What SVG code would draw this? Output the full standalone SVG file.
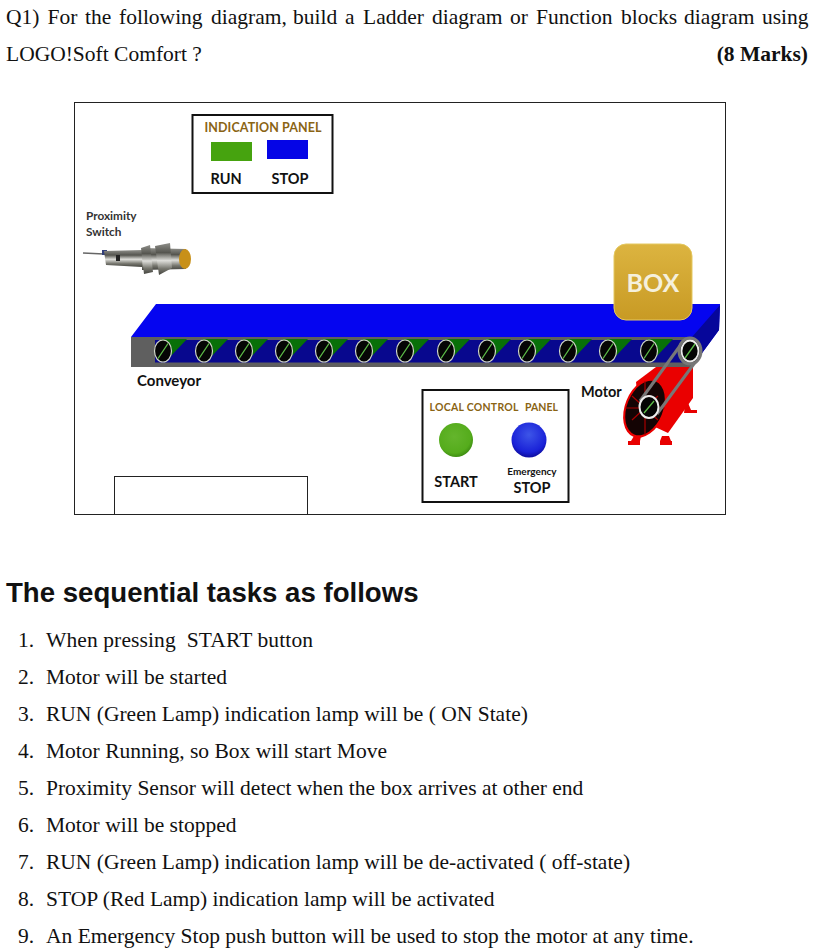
<svg xmlns="http://www.w3.org/2000/svg" width="813" height="952" viewBox="0 0 813 952">
<defs>
<style>
.q{font-family:"Liberation Serif",serif;font-size:21.5px;fill:#111}
.c{font-family:Lato,"Open Sans",sans-serif;font-weight:700;fill:#111}
.p{font-family:Lato,"Open Sans",sans-serif;font-weight:700;fill:#8a6414}
.panel{fill:#fff;stroke:#111;stroke-width:2}
.roller{fill:#050505;stroke:#d0d6c8;stroke-width:1.2}
.slash{stroke:#5fc04a;stroke-width:1.3}
.belt{stroke:#777;stroke-width:3;fill:none}
</style>
<radialGradient id="gb" cx="45%" cy="40%" r="60%"><stop offset="0" stop-color="#64b52c"/><stop offset="0.8" stop-color="#55ac1c"/><stop offset="1" stop-color="#3f8f12"/></radialGradient>
<radialGradient id="bb" cx="50%" cy="35%" r="62%"><stop offset="0" stop-color="#3d55e8"/><stop offset="0.8" stop-color="#1a22d8"/><stop offset="1" stop-color="#1010a8"/></radialGradient>
<linearGradient id="box" x1="0" y1="0" x2="0" y2="1"><stop offset="0" stop-color="#dcb440"/><stop offset="1" stop-color="#c89a24"/></linearGradient>
<linearGradient id="metal" x1="0" y1="0" x2="0" y2="1"><stop offset="0" stop-color="#8f8f8a"/><stop offset="0.3" stop-color="#55554f"/><stop offset="0.55" stop-color="#dededa"/><stop offset="0.8" stop-color="#77776f"/><stop offset="1" stop-color="#44443f"/></linearGradient>
<g id="r"><ellipse class="roller" rx="8.500" ry="11"/><line class="slash" x1="-5" y1="7.500" x2="5" y2="-7.500"/></g>
<path id="wedge" d="M-2 -13H24L6 6Z" fill="#087008"/>
</defs>

<g id="question">
<text class="q" y="24"><tspan x="6">Q1)</tspan><tspan x="47.500">For</tspan><tspan x="85">the</tspan><tspan x="119">following</tspan><tspan x="211">diagram,</tspan><tspan x="293">build</tspan><tspan x="345">a</tspan><tspan x="363">Ladder</tspan><tspan x="432">diagram</tspan><tspan x="510">or</tspan><tspan x="536">Function</tspan><tspan x="621">blocks</tspan><tspan x="684">diagram</tspan><tspan x="762">using</tspan></text>
<text class="q" x="6" y="61">LOGO!Soft Comfort ?</text>
<text class="q" x="808" y="61" text-anchor="end" font-weight="700">(8 Marks)</text>
</g>

<rect id="frame" x="74.500" y="102.500" width="651" height="412" fill="#fff" stroke="#222" stroke-width="1"/>

<g id="indication-panel">
<rect class="panel" x="192.500" y="115" width="140" height="78"/>
<text class="p" x="263" y="132" text-anchor="middle" textLength="117" font-size="12.500">INDICATION PANEL</text>
<rect x="211" y="142" width="41" height="19" fill="#46a30f"/>
<rect x="267" y="140" width="41" height="19" fill="#0505e6"/>
<text class="c" x="226" y="184" font-size="14.500" text-anchor="middle">RUN</text>
<text class="c" x="290" y="184" font-size="14.500" text-anchor="middle">STOP</text>
</g>

<g id="proximity-switch">
<text class="c" x="86" y="220" font-size="11.800" style="fill:#333">Proximity</text>
<text class="c" x="86" y="236" font-size="11.800" style="fill:#333">Switch</text>
<line x1="83" y1="253" x2="104" y2="254" stroke="#666" stroke-width="1.500"/>
<rect x="102" y="250" width="5" height="5" fill="#33407a"/>
<path d="M104 251L142 250V267L106 265Z" fill="url(#metal)"/>
<rect x="116" y="255" width="4" height="6" fill="#222"/>
<path d="M142 248L186 249V269L142 270Z" fill="url(#metal)"/>
<path d="M141 248L150 245L153 272L144 274Z" fill="url(#metal)"/>
<path d="M155 246L170 243L172 268L159 275Z" fill="url(#metal)"/>
<ellipse cx="185" cy="259" rx="6" ry="10" fill="#c89018"/>
</g>

<g id="conveyor">
<path d="M131 337L156 304H720L719 330L702 353L692 337Z" fill="#0505f0"/>
<path d="M692 337L720 305L719 330L700 356Z" fill="#06069a"/>
<rect x="131" y="337" width="562" height="30" fill="#5f5f5f"/>
<rect x="155" y="340" width="530" height="22.500" fill="#08088e"/>
<g>
<use href="#wedge" x="163" y="352"/><use href="#wedge" x="204" y="352"/><use href="#wedge" x="244" y="352"/><use href="#wedge" x="284" y="352"/><use href="#wedge" x="324" y="352"/><use href="#wedge" x="364" y="352"/><use href="#wedge" x="405" y="352"/><use href="#wedge" x="446" y="352"/><use href="#wedge" x="487" y="352"/><use href="#wedge" x="527" y="352"/><use href="#wedge" x="568" y="352"/><use href="#wedge" x="608" y="352"/><use href="#wedge" x="649" y="352"/>
</g>
<g>
<use href="#r" x="163" y="351"/><use href="#r" x="204" y="351"/><use href="#r" x="244" y="351"/><use href="#r" x="284" y="351"/><use href="#r" x="324" y="351"/><use href="#r" x="364" y="351"/><use href="#r" x="405" y="351"/><use href="#r" x="446" y="351"/><use href="#r" x="487" y="351"/><use href="#r" x="527" y="351"/><use href="#r" x="568" y="351"/><use href="#r" x="608" y="351"/><use href="#r" x="649" y="351"/>
</g>
<text class="c" x="137" y="386" font-size="15">Conveyor</text>
</g>

<g id="motor">
<path d="M634 436H641L640 441H631Z M628 441H640V445H628Z" fill="#e80000"/>
<path d="M662 436H669L671 441H660Z M660 441H672V445H660Z" fill="#e80000"/>
<path d="M686 398L691 410H697V413H684Z" fill="#e80000"/>
<path d="M636 382L656 367H693V398L668 433L640 420Z" fill="#ea0000"/>
<ellipse cx="645" cy="408" rx="20" ry="31" transform="rotate(22 645 408)" fill="#ea0000"/>
<ellipse cx="645" cy="408" rx="18" ry="28.500" transform="rotate(22 645 408)" fill="#140404"/>
<path d="M632 396L658 420M658 396L632 420M645 381V435M625 408H665" stroke="#a80000" stroke-width="1.200"/>
<line class="belt" x1="682" y1="343" x2="640" y2="401"/>
<line class="belt" x1="699" y1="357" x2="657" y2="414"/>
<ellipse cx="649" cy="407" rx="9.500" ry="11" fill="#050505" stroke="#ececec" stroke-width="2"/>
<line class="slash" x1="644" y1="413" x2="654" y2="401"/>
<ellipse cx="690" cy="351" rx="11" ry="13" fill="#050505" stroke="#777" stroke-width="3"/>
<ellipse cx="690" cy="351" rx="8.500" ry="10.500" fill="#050505" stroke="#ececec" stroke-width="1.800"/>
<line class="slash" x1="685" y1="358" x2="695" y2="344"/>
<text class="c" x="581" y="397" font-size="14.500">Motor</text>
</g>

<g id="box">
<rect x="614" y="244" width="78" height="76" rx="12" fill="url(#box)" stroke="#e4c860" stroke-width="1"/>
<text x="653" y="292" text-anchor="middle" font-family="Lato,'Open Sans',sans-serif" font-weight="700" font-size="25" fill="#f5f0dc">BOX</text>
</g>

<g id="local-control-panel">
<rect class="panel" x="422.500" y="390" width="146" height="112"/>
<text class="p" x="429.500" y="411" font-size="10.500" textLength="89">LOCAL CONTROL</text>
<text class="p" x="525" y="411" font-size="10.500" textLength="33">PANEL</text>
<circle cx="456" cy="440" r="17" fill="url(#gb)"/>
<circle cx="529" cy="440" r="17.500" fill="url(#bb)"/>
<text class="c" x="456" y="487" font-size="14.500" text-anchor="middle">START</text>
<text class="c" x="532" y="475" font-size="10" text-anchor="middle">Emergency</text>
<text class="c" x="532" y="493" font-size="14.500" text-anchor="middle">STOP</text>
</g>

<rect id="blank-box" x="114.500" y="476.500" width="193" height="38" fill="#fff" stroke="#222" stroke-width="1"/>

<text id="heading" x="6" y="602" font-family="'Liberation Sans',Arial,sans-serif" font-weight="700" font-size="27.600" fill="#111">The sequential tasks as follows</text>

<g id="tasks">
<text class="q" x="18" y="647">1.</text><text class="q" x="46" y="647" xml:space="preserve" textLength="267">When pressing  START button</text>
<text class="q" x="18" y="684">2.</text><text class="q" x="46" y="684">Motor will be started</text>
<text class="q" x="18" y="721">3.</text><text class="q" x="46" y="721">RUN (Green Lamp) indication lamp will be ( ON State)</text>
<text class="q" x="18" y="758">4.</text><text class="q" x="46" y="758">Motor Running, so Box will start Move</text>
<text class="q" x="18" y="795">5.</text><text class="q" x="46" y="795">Proximity Sensor will detect when the box arrives at other end</text>
<text class="q" x="18" y="832">6.</text><text class="q" x="46" y="832">Motor will be stopped</text>
<text class="q" x="18" y="869">7.</text><text class="q" x="46" y="869">RUN (Green Lamp) indication lamp will be de-activated ( off-state)</text>
<text class="q" x="18" y="906">8.</text><text class="q" x="46" y="906">STOP (Red Lamp) indication lamp will be activated</text>
<text class="q" x="18" y="943">9.</text><text class="q" x="46" y="943">An Emergency Stop push button will be used to stop the motor at any time.</text>
</g>
</svg>
